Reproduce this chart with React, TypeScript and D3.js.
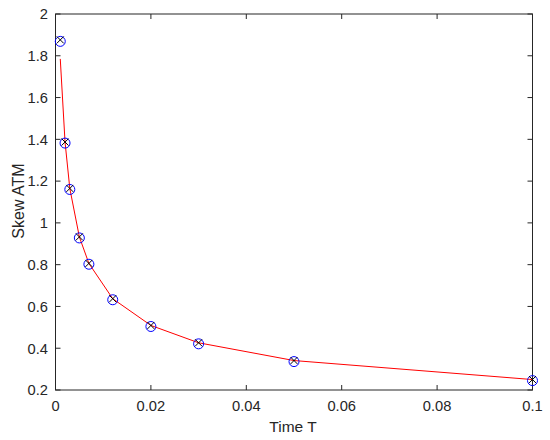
import { useEffect, useRef } from 'react';
import * as d3 from 'd3';

const times = [0.001, 0.002, 0.003, 0.005, 0.007, 0.012, 0.02, 0.03, 0.05, 0.1];
const skewCircles = [1.869, 1.382, 1.16, 0.928, 0.802, 0.632, 0.504, 0.421, 0.336, 0.245];
const skewCrosses = [1.876, 1.387, 1.165, 0.933, 0.806, 0.637, 0.509, 0.426, 0.341, 0.25];
const skewLine = [1.785, 1.387, 1.165, 0.933, 0.806, 0.637, 0.509, 0.426, 0.341, 0.25];
const xTicks = [0, 0.02, 0.04, 0.06, 0.08, 0.1];
const yTicks = [0.2, 0.4, 0.6, 0.8, 1, 1.2, 1.4, 1.6, 1.8, 2];

const App = () => {
  const svgRef = useRef(null);

  useEffect(() => {
    const svg = d3.select(svgRef.current);
    svg.selectAll('*').remove();

    const width = 550;
    const height = 440;
    const left = 55.5, right = 532.5, top = 14, bottom = 390;
    const axisColor = '#262626';
    const font = 'Liberation Sans, Arial, sans-serif';

    const x = d3.scaleLinear().domain([0, 0.1]).range([left, right]);
    const y = d3.scaleLinear().domain([0.2, 2]).range([bottom, top]);

    svg.attr('width', width).attr('height', height);

    // white background
    svg.append('rect').attr('width', width).attr('height', height).attr('fill', '#fff');

    // box
    svg.append('rect')
      .attr('x', left).attr('y', top)
      .attr('width', right - left).attr('height', bottom - top)
      .attr('fill', 'none').attr('stroke', axisColor).attr('stroke-width', 1);

    // ticks pointing inward on all four sides
    const tickLen = 5;
    const ticks = svg.append('g').attr('stroke', axisColor).attr('stroke-width', 1);
    xTicks.forEach(t => {
      ticks.append('line').attr('x1', x(t)).attr('x2', x(t)).attr('y1', bottom).attr('y2', bottom - tickLen);
      ticks.append('line').attr('x1', x(t)).attr('x2', x(t)).attr('y1', top).attr('y2', top + tickLen);
    });
    yTicks.forEach(t => {
      ticks.append('line').attr('x1', left).attr('x2', left + tickLen).attr('y1', y(t)).attr('y2', y(t));
      ticks.append('line').attr('x1', right).attr('x2', right - tickLen).attr('y1', y(t)).attr('y2', y(t));
    });

    // tick labels
    svg.append('g').selectAll('text')
      .data(xTicks)
      .enter()
      .append('text')
      .attr('x', d => x(d))
      .attr('y', bottom + 20.5)
      .attr('text-anchor', 'middle')
      .attr('font-family', font)
      .attr('font-size', 14.7)
      .attr('fill', axisColor)
      .text(d => String(d));

    svg.append('g').selectAll('text')
      .data(yTicks)
      .enter()
      .append('text')
      .attr('x', left - 7.5)
      .attr('y', d => y(d) + 5.3)
      .attr('text-anchor', 'end')
      .attr('font-family', font)
      .attr('font-size', 14.7)
      .attr('fill', axisColor)
      .text(d => String(d));

    // axis titles
    svg.append('text')
      .attr('x', 293)
      .attr('y', 432)
      .attr('text-anchor', 'middle')
      .attr('font-family', font)
      .attr('font-size', 15.5)
      .attr('fill', axisColor)
      .text('Time T');

    svg.append('text')
      .attr('transform', `translate(23.5,201) rotate(-90)`)
      .attr('text-anchor', 'middle')
      .attr('font-family', font)
      .attr('font-size', 16)
      .attr('fill', axisColor)
      .text('Skew ATM');

    // red line
    const line = d3.line<number>()
      .x((_, i) => x(times[i]))
      .y(d => y(d));
    svg.append('path')
      .datum(skewLine)
      .attr('d', line)
      .attr('fill', 'none')
      .attr('stroke', '#ff0000')
      .attr('stroke-width', 1);

    // blue circles
    svg.append('g').selectAll('circle')
      .data(skewCircles)
      .enter()
      .append('circle')
      .attr('cx', (_, i) => x(times[i]))
      .attr('cy', d => y(d))
      .attr('r', 5)
      .attr('fill', 'none')
      .attr('stroke', '#0000ff')
      .attr('stroke-width', 1);

    // black crosses
    const s = 3.5;
    svg.append('g').selectAll('path')
      .data(skewCrosses)
      .enter()
      .append('path')
      .attr('d', (d, i) => {
        const cx = x(times[i]);
        const cy = y(d);
        return `M${cx - s},${cy - s}L${cx + s},${cy + s}M${cx - s},${cy + s}L${cx + s},${cy - s}`;
      })
      .attr('fill', 'none')
      .attr('stroke', '#000')
      .attr('stroke-width', 1);
  }, []);

  return <svg ref={svgRef} style={{ display: 'block', position: 'absolute', left: 0, top: 0 }}></svg>;
};

export default App;
